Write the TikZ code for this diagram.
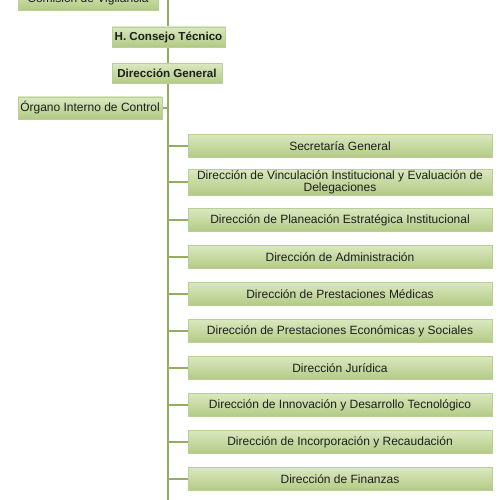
\documentclass[tikz,border=0pt]{standalone}
\usepackage{fontspec}
\setmainfont{Liberation Sans}
\usetikzlibrary{backgrounds,shadows}
\definecolor{boxtop}{HTML}{DAE8BF}
\definecolor{boxbot}{HTML}{B2CA84}
\definecolor{boxline}{HTML}{BACF95}
\definecolor{trunk}{HTML}{93AE62}
\definecolor{txt}{HTML}{1E1E1E}
\begin{document}
\begin{tikzpicture}[x=1pt,y=-1pt,
  box/.style={draw=boxline, line width=0.8pt, top color=boxtop, bottom color=boxbot,
    drop shadow={shadow xshift=0.8pt, shadow yshift=-0.8pt, opacity=0.25},
    text=txt, font=\fontsize{12}{12}\selectfont, inner sep=0pt, align=center, anchor=center},
  bbox/.style={box, font=\fontsize{11.6}{12}\selectfont\bfseries},
  kid/.style={box, minimum width=304pt, minimum height=23pt},
  conn/.style={draw=trunk, line width=2.4pt}]
\useasboundingbox (0,0) rectangle (500,500);
\clip (0,0) rectangle (500,500);
\coordinate (ctop) at (168,-20);
\coordinate (cbot) at (168,505);
\node[box, minimum width=140pt, minimum height=22pt] (cv) at (88,-1) {Comisión de Vigilancia};
\node[bbox, minimum width=113pt, minimum height=20pt] (hct) at (168.5,37) {H. Consejo Técnico};
\node[bbox, minimum width=110pt, minimum height=20pt] (dg) at (167,73.5) {Dirección General};
\node[box, minimum width=144pt, minimum height=22pt] (oic) at (90,108) {Órgano Interno de Control};
\node[kid] (k1) at (340,146) {Secretaría General};
\node[kid, minimum height=26pt] (k2) at (340,182) {Dirección de Vinculación Institucional y Evaluación de\\Delegaciones};
\node[kid] (k3) at (340,220) {Dirección de Planeación Estratégica Institucional};
\node[kid] (k4) at (340,257) {Dirección de Administración};
\node[kid] (k5) at (340,294) {Dirección de Prestaciones Médicas};
\node[kid] (k6) at (340,331) {Dirección de Prestaciones Económicas y Sociales};
\node[kid] (k7) at (340,368) {Dirección Jurídica};
\node[kid] (k8) at (340,405) {Dirección de Innovación y Desarrollo Tecnológico};
\node[kid] (k9) at (340,442) {Dirección de Incorporación y Recaudación};
\node[kid] (k10) at (340,479) {Dirección de Finanzas};
\begin{scope}[on background layer]
\draw[conn] (ctop) -- (cbot);
\draw[conn] (cv.east) -- (cv.east -| ctop);
\draw[conn] (oic.east) -- (oic.east -| ctop);
\foreach \k in {k1,k2,k3,k4,k5,k6,k7,k8,k9,k10}
  \draw[conn] (\k.west) -- (\k.west -| ctop);
\end{scope}
\end{tikzpicture}
\end{document}
